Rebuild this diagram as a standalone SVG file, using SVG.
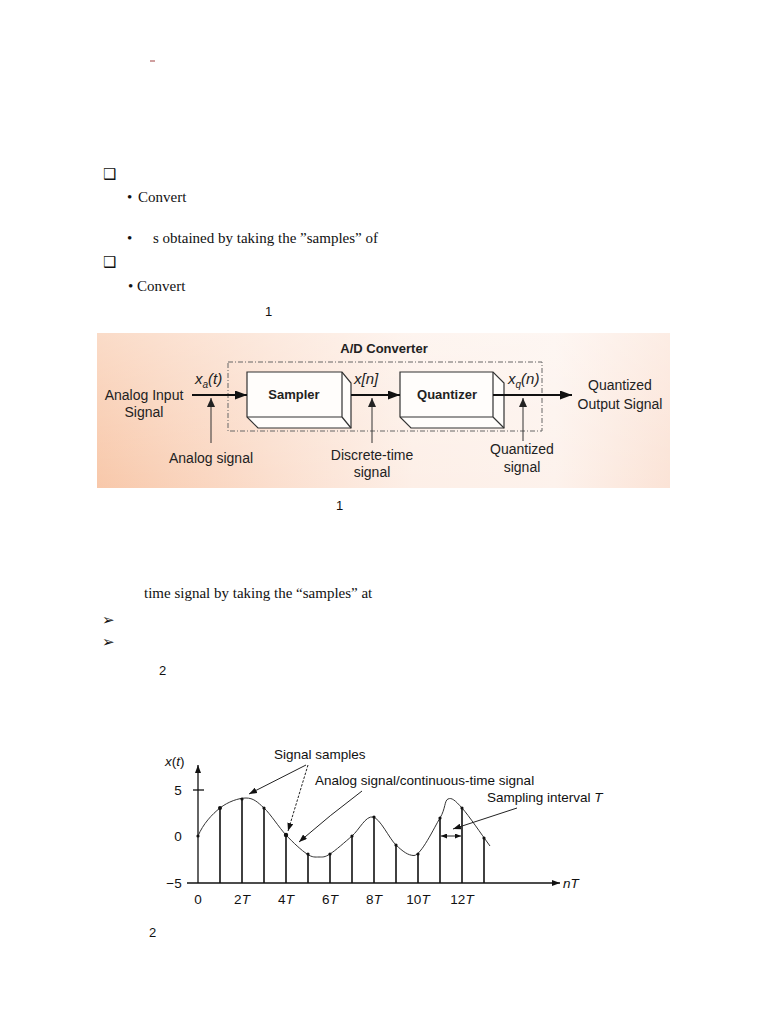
<svg xmlns="http://www.w3.org/2000/svg" width="768" height="1024" viewBox="0 0 768 1024">
<style>
.pg{font-family:"Liberation Serif","Times New Roman",serif;font-size:15px;fill:#111}
.pn{font-family:"Liberation Sans",Arial,sans-serif;font-size:13px;fill:#111}
.sym{font-family:"DejaVu Sans",sans-serif;fill:#111}
.f{font-family:"Liberation Sans",Arial,sans-serif;font-size:14px;fill:#222}
.fb{font-family:"Liberation Sans",Arial,sans-serif;font-size:13px;font-weight:bold;fill:#222}
.fi{font-family:"Liberation Sans",Arial,sans-serif;font-size:15px;font-style:italic;fill:#222}
.box{fill:#fffdfb;stroke:#333;stroke-width:1.2}
.bl{fill:none;stroke:#333;stroke-width:1.2}
.sig{stroke:#111;stroke-width:2;fill:none}
.up{stroke:#333;stroke-width:1;fill:none}
.p{font-family:"Liberation Sans",Arial,sans-serif;font-size:13.5px;fill:#111}
.pi{font-style:italic}
.ax{stroke:#111;stroke-width:1.3;fill:none}
.stem{stroke:#111;stroke-width:1.6}
.pa{stroke:#222;stroke-width:1;fill:none}
.dot{fill:#111}
</style>
<defs>
<linearGradient id="bg" x1="0" y1="0" x2="1" y2="0">
<stop offset="0" stop-color="#f8c8aa"/>
<stop offset="0.3" stop-color="#fbdecd"/>
<stop offset="0.55" stop-color="#fdefe7"/>
<stop offset="0.8" stop-color="#fdf2ec"/>
<stop offset="1" stop-color="#fbe3d6"/>
</linearGradient>
<linearGradient id="bgv" x1="0" y1="0" x2="0" y2="1">
<stop offset="0" stop-color="#ffffff" stop-opacity="0.35"/>
<stop offset="1" stop-color="#ffffff" stop-opacity="0"/>
</linearGradient>
<marker id="ah" markerUnits="userSpaceOnUse" markerWidth="12" markerHeight="9" refX="12" refY="4.5" orient="auto">
<path d="M0,0 L12,4.5 L0,9 Z" fill="#111"/>
</marker>
<marker id="ahu" markerUnits="userSpaceOnUse" markerWidth="9" markerHeight="9" refX="9" refY="4" orient="auto">
<path d="M0,0 L9,4 L0,8 Z" fill="#222"/>
</marker>
<marker id="ahp" markerUnits="userSpaceOnUse" markerWidth="8" markerHeight="6" refX="8" refY="3" orient="auto">
<path d="M0,0 L8,3 L0,6 Z" fill="#111"/>
</marker>
<marker id="ahs" markerUnits="userSpaceOnUse" markerWidth="6" markerHeight="5" refX="6" refY="2.5" orient="auto-start-reverse">
<path d="M0,0 L6,2.5 L0,5 Z" fill="#111"/>
</marker>
</defs>

<rect width="768" height="1024" fill="#ffffff"/>

<g id="page-text">
<line x1="150" y1="61" x2="155" y2="61" stroke="#a04040" stroke-width="1"/>
<text class="sym" x="103" y="179" font-size="15">❑</text>
<text class="pg" x="127" y="202">•</text>
<text class="pg" x="138" y="202">Convert</text>
<text class="pg" x="127" y="243">•</text>
<text class="pg" x="153" y="243">s obtained by taking the ”samples” of</text>
<text class="sym" x="103" y="267" font-size="15">❑</text>
<text class="pg" x="128" y="291">• Convert</text>
<text class="pn" x="265" y="316">1</text>
<text class="pn" x="336" y="510">1</text>
<text class="pg" x="144" y="598">time signal by taking the “samples” at</text>
<text class="sym" x="102" y="625" font-size="15">➢</text>
<text class="sym" x="102" y="647" font-size="15">➢</text>
<text class="pn" x="159" y="675">2</text>
<text class="pn" x="149" y="937">2</text>
</g>

<g id="adc-figure">
<rect x="97" y="333" width="573" height="155" fill="url(#bg)"/>
<rect x="97" y="333" width="573" height="155" fill="url(#bgv)"/>
<text class="fb" x="384" y="353" text-anchor="middle">A/D Converter</text>
<rect x="228" y="362" width="314" height="69" fill="none" stroke="#666" stroke-width="1" stroke-dasharray="5,2,1,2"/>
</g>

<g id="sampler">
<path class="box" d="M247,372 H342 L351,383 V428 H258 L247,417 Z"/>
<path class="bl" d="M342,372 V417 H247 M342,417 L351,428"/>
<text class="fb" x="294" y="399" text-anchor="middle">Sampler</text>
</g>

<g id="quantizer">
<path class="box" d="M400,372 H493 L504,383 V428 H411 L400,417 Z"/>
<path class="bl" d="M493,372 V417 H400 M493,417 L504,428"/>
<text class="fb" x="447" y="399" text-anchor="middle">Quantizer</text>
</g>

<g id="adc-labels">
<text class="f" x="144" y="400" text-anchor="middle">Analog Input</text>
<text class="f" x="144" y="417" text-anchor="middle">Signal</text>
<text class="fi" x="195" y="384">x<tspan font-size="10" dy="4">a</tspan><tspan dy="-4">(t)</tspan></text>
<text class="fi" x="354" y="384">x[n]</text>
<text class="fi" x="508" y="384">x<tspan font-size="10" dy="4">q</tspan><tspan dy="-4">(n)</tspan></text>
<text class="f" x="211" y="463" text-anchor="middle">Analog signal</text>
<text class="f" x="372" y="460" text-anchor="middle">Discrete-time</text>
<text class="f" x="372" y="477" text-anchor="middle">signal</text>
<text class="f" x="522" y="454" text-anchor="middle">Quantized</text>
<text class="f" x="522" y="472" text-anchor="middle">signal</text>
<text class="f" x="620" y="390" text-anchor="middle">Quantized</text>
<text class="f" x="620" y="409" text-anchor="middle">Output Signal</text>
</g>

<g id="adc-connectors">
<line class="sig" x1="192" y1="395" x2="247" y2="395" marker-end="url(#ah)"/>
<line class="sig" x1="351" y1="395" x2="400" y2="395" marker-end="url(#ah)"/>
<line class="sig" x1="493" y1="395" x2="572" y2="395" marker-end="url(#ah)"/>
<line class="up" x1="211" y1="443" x2="211" y2="398" marker-end="url(#ahu)"/>
<line class="up" x1="372" y1="443" x2="372" y2="398" marker-end="url(#ahu)"/>
<line class="up" x1="523" y1="441" x2="523" y2="398" marker-end="url(#ahu)"/>
</g>

<g id="plot-axes">
<line class="ax" x1="198" y1="883" x2="198" y2="765" marker-end="url(#ahp)"/>
<line class="ax" x1="187" y1="883" x2="560" y2="883" marker-end="url(#ahp)"/>
<line class="ax" x1="193" y1="790" x2="204" y2="790"/>
<text class="p" x="165" y="766"><tspan class="pi">x</tspan>(<tspan class="pi">t</tspan>)</text>
<text class="p" x="178" y="795" text-anchor="middle">5</text>
<text class="p" x="178" y="841" text-anchor="middle">0</text>
<text class="p" x="174" y="888" text-anchor="middle">−5</text>
<text class="p" x="198" y="904" text-anchor="middle">0</text>
<text class="p" x="242" y="904" text-anchor="middle">2<tspan class="pi">T</tspan></text>
<text class="p" x="286" y="904" text-anchor="middle">4<tspan class="pi">T</tspan></text>
<text class="p" x="330" y="904" text-anchor="middle">6<tspan class="pi">T</tspan></text>
<text class="p" x="374" y="904" text-anchor="middle">8<tspan class="pi">T</tspan></text>
<text class="p" x="418" y="904" text-anchor="middle">10<tspan class="pi">T</tspan></text>
<text class="p" x="462" y="904" text-anchor="middle">12<tspan class="pi">T</tspan></text>
<text class="p" x="563" y="888"><tspan class="pi">nT</tspan></text>
</g>

<g id="plot-signal">
<path d="M198,836 C203,824 212,814.3 220,808 C228,801.7 238.7,798 246,798 C253.3,798 257.3,801.8 264,808 C270.7,814.2 278.8,827.3 286,835 C293.2,842.7 301.5,850.3 307,854 C312.5,857.7 315.2,857 319,857 C322.8,857 324.5,857.5 330,854 C335.5,850.5 344.8,842.2 352,836 C359.2,829.8 365.7,815.5 373,817 C380.3,818.5 389.2,838.6 396,845 C402.8,851.4 408,855.5 414,855.5 C421,855.5 434.3,827.4 440,818 C445.7,808.6 444.3,800.7 448,799 C451.7,797.3 455,800.2 462,808 C469,815.8 480.7,833.3 490,846" fill="none" stroke="#333" stroke-width="1"/>
<g class="stem">
<line x1="220" y1="808" x2="220" y2="883"/>
<line x1="242" y1="799" x2="242" y2="883"/>
<line x1="264" y1="808" x2="264" y2="883"/>
<line x1="286" y1="835" x2="286" y2="883"/>
<line x1="308" y1="854" x2="308" y2="883"/>
<line x1="330" y1="854" x2="330" y2="883"/>
<line x1="352" y1="836" x2="352" y2="883"/>
<line x1="374" y1="817" x2="374" y2="883"/>
<line x1="396" y1="845" x2="396" y2="883"/>
<line x1="418" y1="854" x2="418" y2="883"/>
<line x1="440" y1="818" x2="440" y2="883"/>
<line x1="462" y1="808" x2="462" y2="883"/>
<line x1="484" y1="838" x2="484" y2="883"/>
</g>
<g class="dot">
<circle cx="198" cy="836" r="1.6"/>
<circle cx="220" cy="808" r="2"/>
<circle cx="242" cy="799" r="1.6"/>
<circle cx="264" cy="808" r="1.6"/>
<circle cx="286" cy="835" r="2.2"/>
<circle cx="308" cy="854" r="1.6"/>
<circle cx="330" cy="854" r="1.6"/>
<circle cx="352" cy="836" r="1.6"/>
<circle cx="374" cy="817" r="1.6"/>
<circle cx="396" cy="845" r="1.6"/>
<circle cx="418" cy="854" r="1.6"/>
<circle cx="440" cy="818" r="1.6"/>
<circle cx="462" cy="808" r="1.6"/>
<circle cx="484" cy="838" r="1.6"/>
</g>
</g>

<g id="plot-annotations">
<text class="p" x="274" y="759">Signal samples</text>
<text class="p" x="315" y="785">Analog signal/continuous-time signal</text>
<text class="p" x="487" y="802">Sampling interval <tspan class="pi">T</tspan></text>
</g>

<g id="plot-connectors">
<line class="pa" x1="306" y1="765" x2="249" y2="794" marker-end="url(#ahp)"/>
<line class="pa" x1="308" y1="765" x2="288" y2="831" stroke-dasharray="2.5,1.5" marker-end="url(#ahp)"/>
<path class="pa" d="M362,791 Q330,815 299,842" marker-end="url(#ahp)"/>
<line class="pa" x1="517" y1="808" x2="453" y2="829" marker-end="url(#ahp)"/>
<line class="pa" x1="441" y1="836" x2="461" y2="836" marker-start="url(#ahs)" marker-end="url(#ahs)"/>
</g>
</svg>
